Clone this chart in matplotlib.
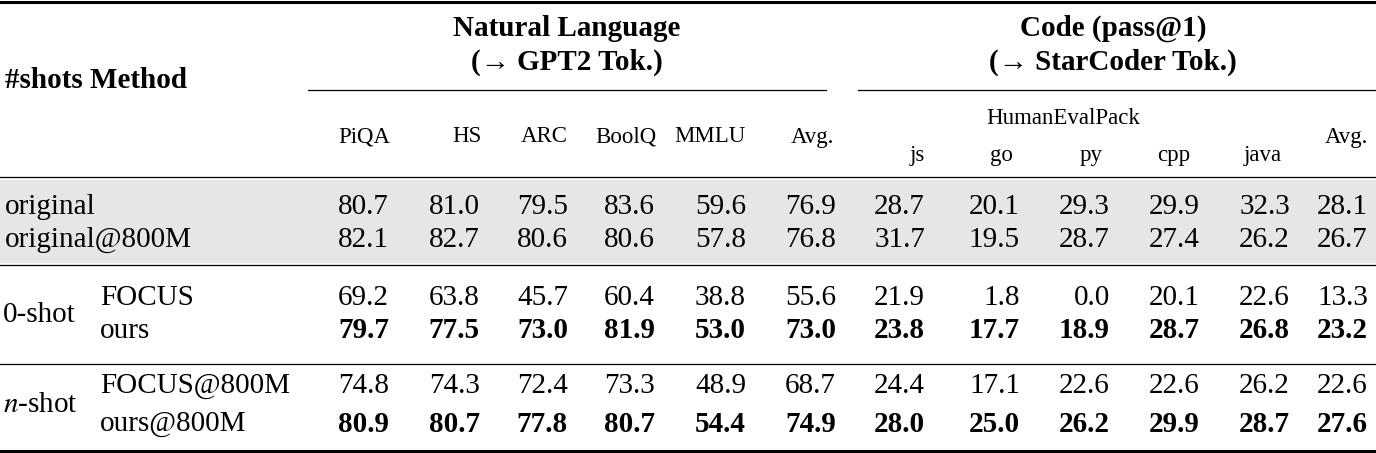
import matplotlib
matplotlib.use("Agg")
import matplotlib.pyplot as plt
from matplotlib.patches import Rectangle
from matplotlib.lines import Line2D

plt.rcParams['font.family'] = ['Liberation Serif', 'DejaVu Serif']
plt.rcParams['mathtext.fontset'] = 'stix'

W, H = 1376, 453
nl_cols = ["PiQA", "HS", "ARC", "BoolQ", "MMLU", "Avg."]
code_cols = ["js", "go", "py", "cpp", "java"]
shots = ["", "", "0-shot", "", "$n$-shot", ""]
methods = ["original", "original@800M", "FOCUS", "ours", "FOCUS@800M", "ours@800M"]
values = [
    ["80.7", "81.0", "79.5", "83.6", "59.6", "76.9", "28.7", "20.1", "29.3", "29.9", "32.3", "28.1"],
    ["82.1", "82.7", "80.6", "80.6", "57.8", "76.8", "31.7", "19.5", "28.7", "27.4", "26.2", "26.7"],
    ["69.2", "63.8", "45.7", "60.4", "38.8", "55.6", "21.9", "1.8", "0.0", "20.1", "22.6", "13.3"],
    ["79.7", "77.5", "73.0", "81.9", "53.0", "73.0", "23.8", "17.7", "18.9", "28.7", "26.8", "23.2"],
    ["74.8", "74.3", "72.4", "73.3", "48.9", "68.7", "24.4", "17.1", "22.6", "22.6", "26.2", "22.6"],
    ["80.9", "80.7", "77.8", "80.7", "54.4", "74.9", "28.0", "25.0", "26.2", "29.9", "28.7", "27.6"],
]
bold_rows = {3, 5}
FS = 21
SFS = 16.5

fig = plt.figure(figsize=(W/100, H/100), dpi=100)
def T(x, y, s, **kw):
    fig.text(x/W, 1-y/H, s, **kw)
def hline(x0, x1, y, lw):
    fig.add_artist(Line2D([x0/W, x1/W], [1-y/H, 1-y/H], color='black', lw=lw))

fig.add_artist(Rectangle((0, 1-262/H), 1, 82/H, color='#e6e6e6', zorder=0))
hline(0, W, 2, 2.2)
hline(308, 826, 90, 0.9)
hline(858, W, 90, 0.9)
hline(0, W, 177, 0.9)
hline(0, W, 265, 0.9)
hline(0, W, 364, 0.9)
hline(0, W, 451, 2.2)

T(567, 28, "Natural Language", ha='center', va='center', fontsize=FS, weight='bold')
T(567, 62, "(→ GPT2 Tok.)", ha='center', va='center', fontsize=FS, weight='bold')
T(1113, 28, "Code (pass@1)", ha='center', va='center', fontsize=FS, weight='bold')
T(1113, 62, "(→ StarCoder Tok.)", ha='center', va='center', fontsize=FS, weight='bold')
T(5, 80, "#shots Method", ha='left', va='center', fontsize=FS, weight='bold')
T(1063, 118, "HumanEvalPack", ha='center', va='center', fontsize=SFS)

nl_x = [390, 482, 568, 657, 746, 834]
code_hx = [925, 1013, 1103, 1190, 1282]
for c, x in zip(nl_cols, nl_x):
    T(x, 137, c, ha='right', va='center', fontsize=SFS)
for c, x in zip(code_cols, code_hx):
    T(x, 156, c, ha='right', va='center', fontsize=SFS)
T(1368, 137, "Avg.", ha='right', va='center', fontsize=SFS)

val_x = [389, 480, 568, 655, 746, 836, 925, 1020, 1110, 1200, 1290, 1368]
row_y = [207, 240, 298, 331, 386, 424]
for i, (s, m, vals) in enumerate(zip(shots, methods, values)):
    y = row_y[i]
    if i < 2:
        T(5, y, m, ha='left', va='center', fontsize=FS)
    else:
        T(100, y, m, ha='left', va='center', fontsize=FS)
    if s:
        T(3, (row_y[i] + row_y[i+1]) / 2, s, ha='left', va='center', fontsize=FS)
    for v, x in zip(vals, val_x):
        T(x, y, v, ha='right', va='center', fontsize=FS,
          weight='bold' if i in bold_rows else 'normal')

fig.savefig("out.png", dpi=100)
